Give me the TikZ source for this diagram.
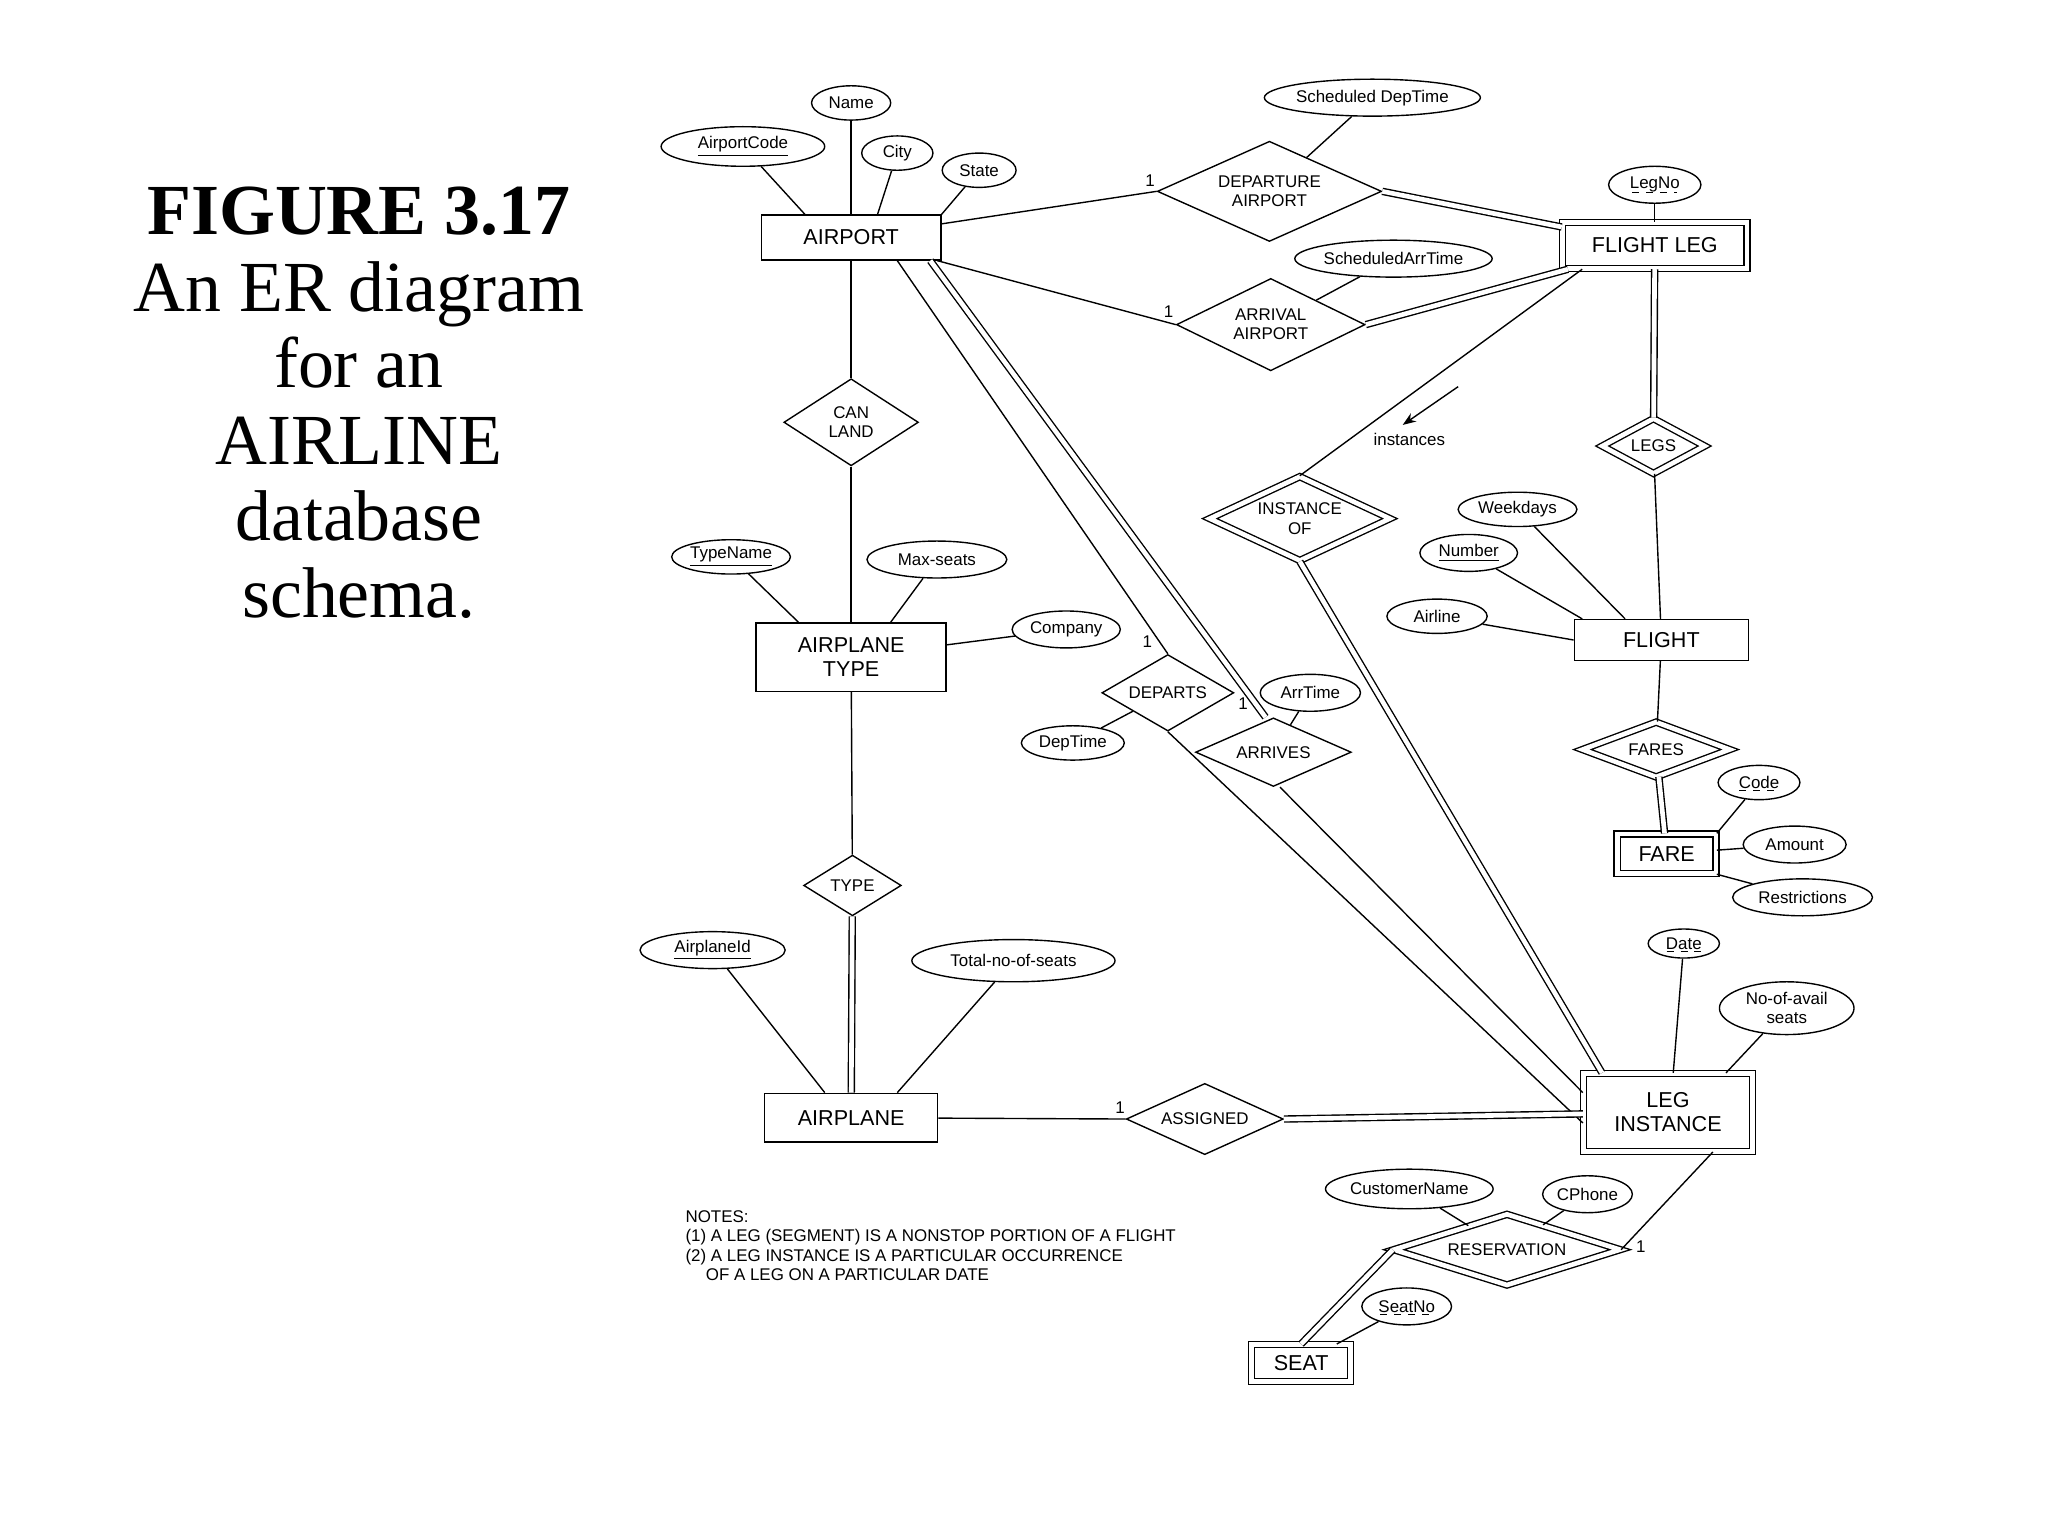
\documentclass[tikz,border=0pt]{standalone}
\usepackage{fontspec}
\setmainfont{Liberation Serif}
\setsansfont{Liberation Sans}
\usetikzlibrary{shapes.geometric,arrows.meta,calc}
\begin{document}
\begin{tikzpicture}[x=0.02cm,y=-0.02cm,line width=0.6pt,
  every node/.style={font=\sffamily\fontsize{7.3}{8.3}\selectfont,inner sep=0pt,align=center},
  ent/.style={draw,rectangle,font=\sffamily\fontsize{9.3}{10.3}\selectfont},
  went/.style={ent,double,double distance=2pt},
  rel/.style={draw,diamond},
  wrel/.style={rel,double,double distance=2pt},
  attr/.style={draw,ellipse},
  dbl/.style={double,double distance=2pt}]
\useasboundingbox (0,0) rectangle (1552,1164);
% title
\node[font=\rmfamily\fontsize{31}{33}\selectfont] (title) at (272,305)
 {\textbf{FIGURE 3.17}\\An ER diagram\\for an\\AIRLINE\\database\\schema.};
% entities
\node[ent,minimum width=2.72cm,minimum height=0.68cm] (airport) at (645,180) {AIRPORT};
\node[went,minimum width=2.8cm,minimum height=0.7cm] (fleg) at (1254,186) {FLIGHT LEG};
\node[ent,minimum width=2.88cm,minimum height=1.04cm] (atype) at (645,498) {AIRPLANE\\TYPE};
\node[ent,minimum width=2.64cm,minimum height=0.62cm] (flight) at (1259,485) {FLIGHT};
\node[went,minimum width=1.5cm,minimum height=0.6cm] (fare) at (1263,647) {FARE};
\node[went,minimum width=2.56cm,minimum height=1.18cm] (legi) at (1264,843) {LEG\\INSTANCE};
\node[ent,minimum width=2.62cm,minimum height=0.74cm] (airplane) at (645,847) {AIRPLANE};
\node[went,minimum width=1.5cm,minimum height=0.56cm] (seat) at (986,1033) {SEAT};
% relationships
\node[rel,aspect=2.2,minimum width=3.4cm,minimum height=1.52cm] (depa) at (962,145) {DEPARTURE\\AIRPORT};
\node[rel,aspect=2,minimum width=2.86cm,minimum height=1.4cm] (arra) at (963,246) {ARRIVAL\\AIRPORT};
\node[rel,aspect=1.5,minimum width=2.04cm,minimum height=1.32cm] (canland) at (645,320) {CAN\\LAND};
\node[wrel,aspect=1.8,minimum width=1.56cm,minimum height=0.84cm] (legs) at (1253,338) {LEGS};
\node[wrel,aspect=2.1,minimum width=2.74cm,minimum height=1.28cm] (instof) at (985,393) {INSTANCE\\OF};
\node[rel,aspect=1.7,minimum width=2.0cm,minimum height=1.16cm] (departs) at (885,525) {DEPARTS};
\node[rel,aspect=2.3,minimum width=2.36cm,minimum height=1.04cm] (arrives) at (965,570) {ARRIVES};
\node[wrel,aspect=2.5,minimum width=2.24cm,minimum height=0.84cm] (fares) at (1255,568) {FARES};
\node[rel,aspect=1.6,minimum width=1.48cm,minimum height=0.92cm] (type) at (646,671) {TYPE};
\node[rel,aspect=2.2,minimum width=2.38cm,minimum height=1.08cm] (assigned) at (913,848) {ASSIGNED};
\node[wrel,aspect=3,minimum width=3.44cm,minimum height=1.08cm] (resv) at (1142,947) {RESERVATION};
% attributes
\node[attr,minimum width=1.2cm,minimum height=0.52cm] (name) at (645,78) {Name};
\node[attr,minimum width=2.48cm,minimum height=0.6cm] (acode) at (563,111) {\underline{AirportCode}};
\node[attr,minimum width=1.08cm,minimum height=0.52cm] (city) at (680,116) {City};
\node[attr,minimum width=1.12cm,minimum height=0.52cm] (state) at (742,129) {State};
\node[attr,minimum width=2.92cm,minimum height=0.56cm] (sdep) at (1040,74) {Scheduled DepTime};
\node[attr,minimum width=1.4cm,minimum height=0.56cm] (legno) at (1254,140) {LegNo};
\node[attr,minimum width=2.88cm,minimum height=0.56cm] (sarr) at (1056,196) {ScheduledArrTime};
\node[attr,minimum width=1.8cm,minimum height=0.52cm] (weekdays) at (1150,386) {Weekdays};
\node[attr,minimum width=1.48cm,minimum height=0.56cm] (number) at (1113,419) {\underline{Number}};
\node[attr,minimum width=1.52cm,minimum height=0.52cm] (airline) at (1089,467) {Airline};
\node[attr,minimum width=1.8cm,minimum height=0.52cm] (tname) at (554,422) {\underline{TypeName}};
\node[attr,minimum width=2.12cm,minimum height=0.56cm] (maxs) at (710,424) {Max-seats};
\node[attr,minimum width=1.64cm,minimum height=0.56cm] (company) at (808,477) {Company};
\node[attr,minimum width=1.52cm,minimum height=0.56cm] (arrt) at (993,525) {ArrTime};
\node[attr,minimum width=1.56cm,minimum height=0.52cm] (dept) at (813,563) {DepTime};
\node[attr,minimum width=1.24cm,minimum height=0.52cm] (code) at (1333,593) {Code};
\node[attr,minimum width=1.56cm,minimum height=0.56cm] (amount) at (1360,640) {Amount};
\node[attr,minimum width=2.12cm,minimum height=0.56cm] (restr) at (1366,680) {Restrictions};
\node[attr,minimum width=1.08cm,minimum height=0.44cm] (date) at (1276,715) {Date};
\node[attr,minimum width=2.04cm,minimum height=0.8cm] (avail) at (1354,764) {No-of-avail\\seats};
\node[attr,minimum width=2.2cm,minimum height=0.56cm] (apid) at (540,720) {\underline{AirplaneId}};
\node[attr,minimum width=3.08cm,minimum height=0.64cm] (total) at (768,728) {Total-no-of-seats};
\node[attr,minimum width=2.48cm,minimum height=0.6cm] (cname) at (1068,901) {CustomerName};
\node[attr,minimum width=1.36cm,minimum height=0.56cm] (cphone) at (1203,905) {CPhone};
\node[attr,minimum width=1.36cm,minimum height=0.56cm] (seatno) at (1066,990) {SeatNo};
% dashed underlines (partial keys)
\draw[dashed,line width=0.5pt] ($(legno.center)+(-17,6)$) -- ($(legno.center)+(17,6)$);
\draw[dashed,line width=0.5pt] ($(code.center)+(-15,6)$) -- ($(code.center)+(15,6)$);
\draw[dashed,line width=0.5pt] ($(date.center)+(-13,6)$) -- ($(date.center)+(13,6)$);
\draw[dashed,line width=0.5pt] ($(seatno.center)+(-20,6)$) -- ($(seatno.center)+(20,6)$);
% attribute links
\draw (name) -- (airport);
\draw (acode) -- ([xshift=-0.7cm]airport.north);
\draw (city) -- ([xshift=0.4cm]airport.north);
\draw (state) -- (airport.north east);
\draw (sdep) -- (depa);
\draw (legno) -- (fleg);
\draw (sarr) -- (arra);
\draw (weekdays) -- ([xshift=-0.55cm]flight.north);
\draw (number) -- ([xshift=-1.2cm]flight.north);
\draw (airline) -- (flight.west);
\draw (tname) -- ([xshift=-0.8cm]atype.north);
\draw (maxs) -- ([xshift=0.6cm]atype.north);
\draw (company) -- (atype);
\draw (arrt) -- (arrives);
\draw (dept) -- (departs);
\draw (code) -- (fare.north east);
\draw (amount) -- (fare);
\draw (restr) -- (fare.south east);
\draw (date) -- ([xshift=0.08cm]legi.north);
\draw (avail) -- ([xshift=0.88cm]legi.north);
\draw (apid) -- ([xshift=-0.4cm]airplane.north);
\draw (total) -- ([xshift=0.7cm]airplane.north);
\draw (cname) -- (resv);
\draw (cphone) -- (resv);
\draw (seatno) -- (seat);
% relationship links
\draw (airport) -- node[pos=0.97,above=2pt]{1} (depa.west);
\draw[dbl] (depa.east) -- (fleg);
\draw (airport) -- node[pos=0.97,above=2pt]{1} (arra.west);
\draw[dbl] (arra.east) -- (fleg);
\draw[dbl] (fleg) -- (legs);
\draw (legs) -- (flight);
\draw ([xshift=-1.1cm]fleg.south) -- (instof.north);
\draw[dbl] (instof.south) -- ([xshift=-1.0cm]legi.north);
\coordinate (ia) at (1105,293); \coordinate (ib) at (1063,322);
\draw[-Stealth] (ia) -- (ib);
\node (inst) at (1068,333) {instances};
\draw ([xshift=0.7cm]airport.south) -- node[pos=0.97,left=3pt]{1} (departs.north);
\draw[dbl] ([xshift=1.2cm]airport.south) -- node[pos=0.97,left=3pt]{1} ([xshift=-0.12cm]arrives.north);
\draw (departs.south) -- ([yshift=-0.16cm]legi.west);
\draw ([xshift=0.1cm]arrives.south) -- ([yshift=0.3cm]legi.west);
\draw (flight) -- (fares);
\draw[dbl] (fares) -- (fare);
\draw (airport) -- (canland);
\draw (canland) -- (atype);
\draw (atype) -- (type);
\draw[dbl] (type) -- (airplane);
\draw (airplane) -- node[pos=0.97,above=2pt]{1} (assigned.west);
\draw[dbl] (assigned.east) -- (legi);
\draw ([xshift=0.68cm]legi.south) -- node[pos=0.97,right=5pt]{1} (resv.east);
\draw[dbl] (resv.west) -- (seat.north);
% notes
\node[anchor=north west,align=left] (notes) at (519,917) {NOTES:\\(1) A LEG (SEGMENT) IS A NONSTOP PORTION OF A FLIGHT\\(2) A LEG INSTANCE IS A PARTICULAR OCCURRENCE\\\hspace*{1.2em}OF A LEG ON A PARTICULAR DATE};
\end{tikzpicture}
\end{document}
